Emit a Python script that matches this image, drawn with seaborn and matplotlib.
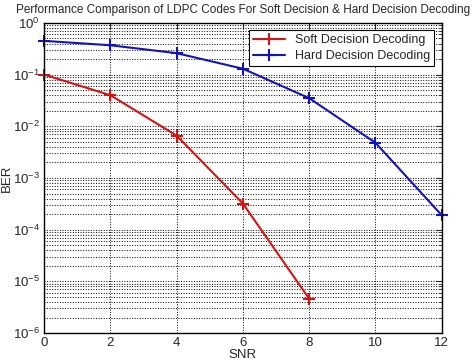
import matplotlib
matplotlib.use("Agg")
import matplotlib.pyplot as plt
import seaborn as sns
import pandas as pd
from matplotlib.ticker import LogLocator, NullFormatter

# data
snr_soft = [0, 2, 4, 6, 8]
ber_soft = [0.1, 0.04, 0.0066, 3.2e-4, 4.6e-6]
snr_hard = [0, 2, 4, 6, 8, 10, 12]
ber_hard = [0.45, 0.37, 0.26, 0.13, 0.035, 0.0048, 1.9e-4]

labels = ["Soft Decision Decoding", "Hard Decision Decoding"]
colors = {"Soft Decision Decoding": "#d41414", "Hard Decision Decoding": "#1414b4"}

df = pd.concat([
    pd.DataFrame({"SNR": snr_soft, "BER": ber_soft, "Method": labels[0]}),
    pd.DataFrame({"SNR": snr_hard, "BER": ber_hard, "Method": labels[1]}),
])

sns.set_style("white")
plt.rcParams["font.family"] = ["Liberation Sans", "DejaVu Sans"]

fig = plt.figure(figsize=(4.74, 3.64), dpi=100)
ax = fig.add_axes([0.093, 0.085, 0.839, 0.852])

sns.lineplot(data=df, x="SNR", y="BER", hue="Method", palette=colors,
             marker="+", markersize=8, markeredgewidth=1.5, linewidth=1.5,
             ax=ax)
# seaborn paints marker edges white; give them the line colour
for line in ax.get_lines():
    line.set_markeredgecolor(line.get_color())
    line.set_clip_on(False)

ax.set_yscale("log")
ax.set_xlim(0, 12)
ax.set_ylim(1e-6, 1)
ax.set_xticks([0, 2, 4, 6, 8, 10, 12])
ax.yaxis.set_major_locator(LogLocator(base=10, numticks=10))
ax.yaxis.set_minor_locator(LogLocator(base=10, subs=range(2, 10), numticks=20))
ax.yaxis.set_minor_formatter(NullFormatter())

ax.grid(True, which="major", linestyle=":", color="black", linewidth=0.7)
ax.grid(True, which="minor", axis="y", linestyle=":", color="black", linewidth=0.7)
ax.tick_params(which="both", direction="in", top=True, right=True, labelsize=9.5)
ax.tick_params(which="major", length=4, pad=3)
ax.tick_params(which="minor", length=2)
for s in ax.spines.values():
    s.set_color("black")
    s.set_linewidth(1.0)

ax.set_xlabel("SNR", fontsize=9.5, labelpad=0)
ax.set_ylabel("BER", fontsize=9.5, labelpad=0)
ax.set_title("Performance Comparison of LDPC Codes For Soft Decision & Hard Decision Decoding",
             fontsize=8.5, pad=7)

leg = ax.legend(loc="upper right", fontsize=9, frameon=True, fancybox=False,
                edgecolor="black", framealpha=1, handlelength=2.6,
                borderaxespad=0.6, borderpad=0.3, labelspacing=0.3)
leg.get_frame().set_linewidth(0.8)
for h in leg.get_lines():
    h.set_markeredgecolor(h.get_color())

fig.savefig("out.png", dpi=100)
